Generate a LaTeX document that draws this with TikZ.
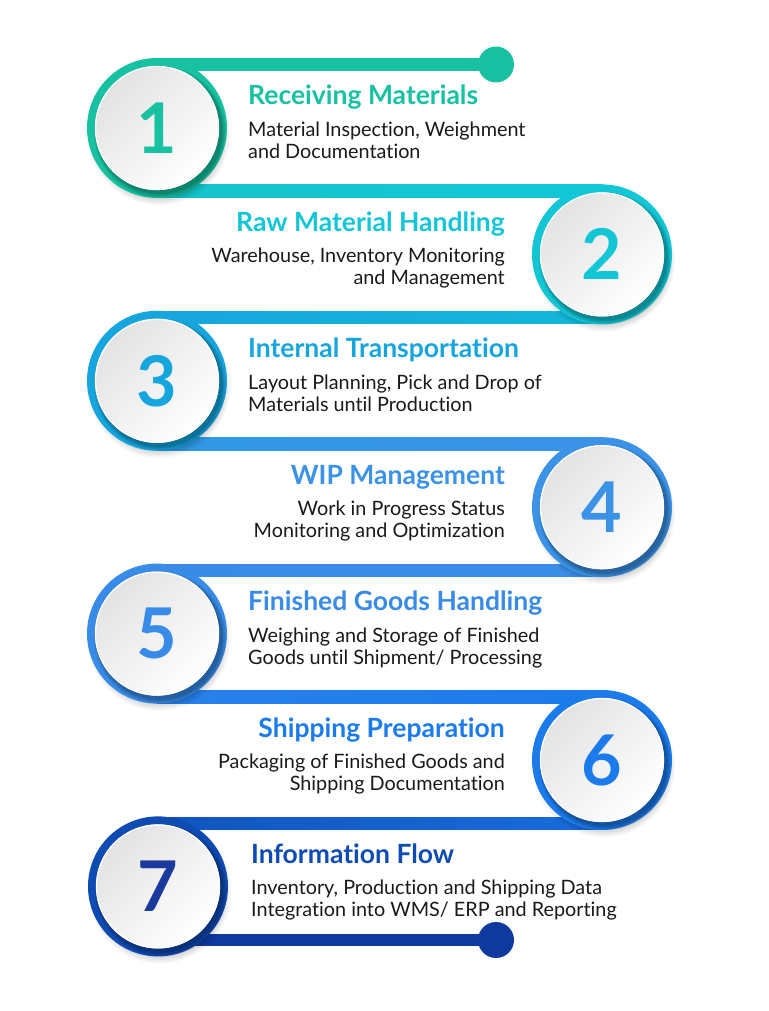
\documentclass[tikz,border=0pt]{standalone}
\usepackage{fontspec}
\setmainfont{Lato}[Ligatures=NoCommon]
\usetikzlibrary{calc}
\definecolor{c1}{HTML}{17C1A1}
\definecolor{c2}{HTML}{13C6D6}
\definecolor{c3}{HTML}{17A5DE}
\definecolor{c4}{HTML}{3B92E6}
\definecolor{c5}{HTML}{398BE8}
\definecolor{c6}{HTML}{1C7BEC}
\definecolor{c7}{HTML}{0E4BB3}
\definecolor{c7d}{HTML}{1A3A9E}
\definecolor{c7l}{HTML}{10399F}
\definecolor{txt}{HTML}{1A1A1A}
\tikzset{
 ringdisk/.style={circle, minimum size=140pt, inner sep=0pt},
 face/.style={circle, minimum size=124pt, inner sep=0pt, shade, shading=axis, top color=black!11, bottom color=white, shading angle=45},
 rim/.style={draw=white, line width=1.2pt},
 digit/.style={font=\fontsize{70}{70}\selectfont\bfseries, inner sep=0pt},
 ttl/.style={font=\fontsize{26.5}{26.5}\selectfont\bfseries, inner sep=0pt},
 bodytxt/.style={font=\fontsize{19.8}{19.8}\selectfont, text=txt, inner sep=0pt},
 enddot/.style={circle, minimum size=36pt, inner sep=0pt},
}
\newcommand\myringstep[3]{%
 \foreach \k in {0,...,5} \fill[black, opacity=0.03] ($(r#1)+(2,6)$) circle ({71-\k*1.5});
 \node[ringdisk, fill=#2] (ring#1) at (r#1) {};
 \foreach \k in {0,...,4} \fill[black, opacity=0.07] ($(r#1)+(3,4)$) circle ({66-\k});
 \node[face] (w#1) at (r#1) {};
 \draw[rim] (r#1) circle (61.5);
 \node[digit, text=#3] (n#1) at (r#1) {#1};
}
\begin{document}
\begin{tikzpicture}[x=1pt,y=-1pt]
\fill[white] (0,0) rectangle (768,1011);
\useasboundingbox (0,0) rectangle (768,1011);
\coordinate (r1) at (157,128);
\coordinate (r2) at (602,254.4);
\coordinate (r3) at (157,380.8);
\coordinate (r4) at (602,507.2);
\coordinate (r5) at (157,633.6);
\coordinate (r6) at (602,760);
\coordinate (r7) at (158,886.4);
\coordinate (d1c) at (496,64.5);
\coordinate (d2c) at (496,940);
% connecting bands
\fill[c1] ($(r1)+(0,-70)$) rectangle ($(d1c)+(0,6.5)$);
\shade[left color=c2!80!c1, right color=c2] ($(r1)+(0,57)$) rectangle ($(r2)+(0,-57)$);
\shade[left color=c3, right color=c3!45!c2] ($(r3)+(0,-57)$) rectangle ($(r2)+(0,57)$);
\shade[left color=c4!70!c3, right color=c4] ($(r3)+(0,57)$) rectangle ($(r4)+(0,-57)$);
\shade[left color=c5, right color=c5!60!c4] ($(r5)+(0,-57)$) rectangle ($(r4)+(0,57)$);
\shade[left color=c6!60!c5, right color=c6] ($(r5)+(0,57)$) rectangle ($(r6)+(0,-57)$);
\shade[left color=c7!80!c6, right color=c6!70!c7] ($(r7)+(0,-57)$) rectangle ($(r6)+(0,57)$);
\fill[c7l] ($(r7)+(0,47.6)$) rectangle ($(d2c)+(0,6)$);
\node[enddot, fill=c1] (d1) at (d1c) {};
\node[enddot, fill=c7l] (d2) at (d2c) {};
% rings
\myringstep{1}{c1}{c1}
\myringstep{2}{c2}{c2}
\myringstep{3}{c3}{c3}
\myringstep{4}{c4}{c4}
\myringstep{5}{c5}{c5}
\myringstep{6}{c6}{c6}
\myringstep{7}{c7}{c7d}
% texts
\node[ttl, text=c1, anchor=base west] (t1) at ($(r1)+(91,-23)$) {Receiving Materials};
\node[bodytxt, anchor=base west] (b1a) at ($(r1)+(91,8.5)$) {Material Inspection, Weighment};
\node[bodytxt, anchor=base west] (b1b) at ($(r1)+(91,30.5)$) {and Documentation};
\node[ttl, text=c2, anchor=base east] (t2) at ($(r2)+(-97,-23)$) {Raw Material Handling};
\node[bodytxt, anchor=base east] (b2a) at ($(r2)+(-97,8.5)$) {Warehouse, Inventory Monitoring};
\node[bodytxt, anchor=base east] (b2b) at ($(r2)+(-97,30.5)$) {and Management};
\node[ttl, text=c3, anchor=base west] (t3) at ($(r3)+(91,-23)$) {Internal Transportation};
\node[bodytxt, anchor=base west] (b3a) at ($(r3)+(91,8.5)$) {Layout Planning, Pick and Drop of};
\node[bodytxt, anchor=base west] (b3b) at ($(r3)+(91,30.5)$) {Materials until Production};
\node[ttl, text=c4, anchor=base east] (t4) at ($(r4)+(-97,-23)$) {WIP Management};
\node[bodytxt, anchor=base east] (b4a) at ($(r4)+(-97,8.5)$) {Work in Progress Status};
\node[bodytxt, anchor=base east] (b4b) at ($(r4)+(-97,30.5)$) {Monitoring and Optimization};
\node[ttl, text=c5, anchor=base west] (t5) at ($(r5)+(91,-23)$) {Finished Goods Handling};
\node[bodytxt, anchor=base west] (b5a) at ($(r5)+(91,8.5)$) {Weighing and Storage of Finished};
\node[bodytxt, anchor=base west] (b5b) at ($(r5)+(91,30.5)$) {Goods until Shipment/ Processing};
\node[ttl, text=c6, anchor=base east] (t6) at ($(r6)+(-97,-23)$) {Shipping Preparation};
\node[bodytxt, anchor=base east] (b6a) at ($(r6)+(-97,8.5)$) {Packaging of Finished Goods and};
\node[bodytxt, anchor=base east] (b6b) at ($(r6)+(-97,30.5)$) {Shipping Documentation};
\node[ttl, text=c7, anchor=base west] (t7) at ($(r7)+(93,-23)$) {Information Flow};
\node[bodytxt, anchor=base west] (b7a) at ($(r7)+(93,8.5)$) {Inventory, Production and Shipping Data};
\node[bodytxt, anchor=base west] (b7b) at ($(r7)+(93,30.5)$) {Integration into WMS/ ERP and Reporting};
\end{tikzpicture}
\end{document}
